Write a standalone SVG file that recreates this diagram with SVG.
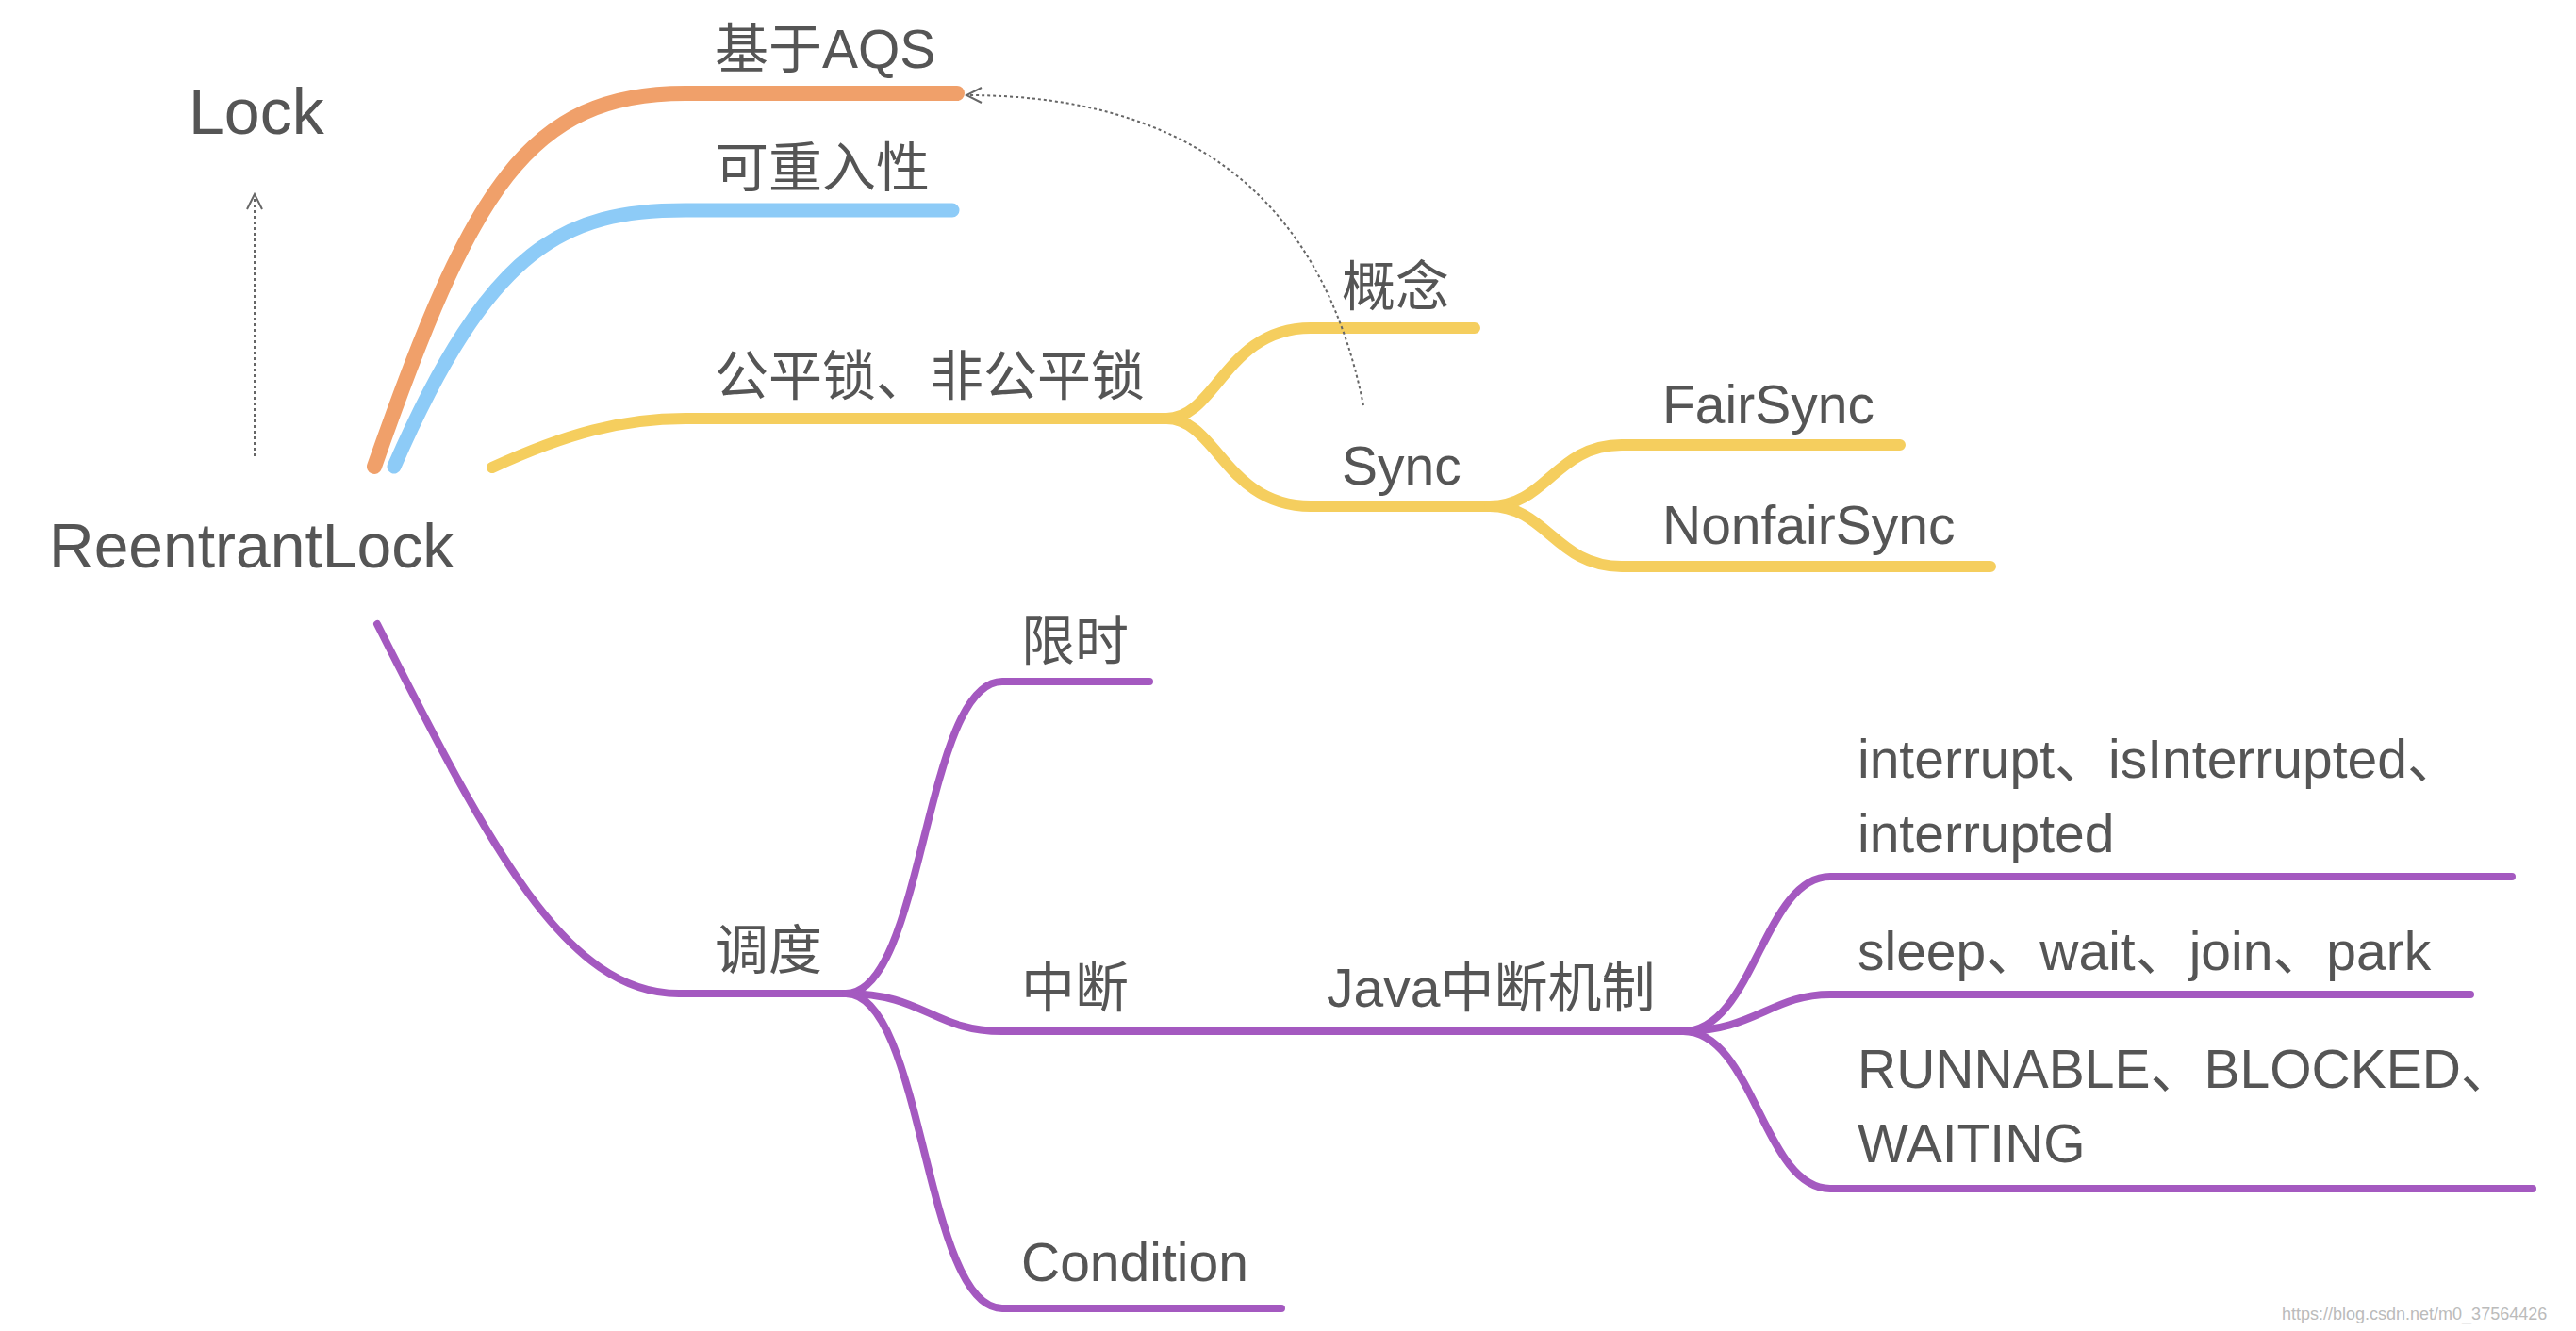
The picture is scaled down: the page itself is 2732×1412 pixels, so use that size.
<svg xmlns="http://www.w3.org/2000/svg" width="2732" height="1412" viewBox="0 0 2732 1412">
<style>
text{font-family:"Liberation Sans","Noto Sans CJK SC",sans-serif;fill:#555;font-size:57px}
.b{fill:none;stroke-linecap:round}
.o{stroke:#F0A06A;stroke-width:16}
.bl{stroke:#8DCBF7;stroke-width:15}
.y{stroke:#F5CE5E;stroke-width:12}
.p{stroke:#A459C0;stroke-width:8}
.d{fill:none;stroke:#666;stroke-width:2;stroke-dasharray:3 3}
</style>
<defs><marker id="ah" markerWidth="20" markerHeight="20" refX="18" refY="10" orient="auto" markerUnits="userSpaceOnUse"><path d="M2,2 L18,10 L2,18" fill="none" stroke="#666" stroke-width="2"/></marker>
<marker id="au" markerWidth="20" markerHeight="20" refX="10" refY="2" orient="0" markerUnits="userSpaceOnUse"><path d="M2,18 L10,2 L18,18" fill="none" stroke="#666" stroke-width="2"/></marker></defs>
<rect width="2732" height="1412" fill="#fff"/>
<g id="connectors">
<path class="b o" d="M397,495 C500,200 560,99 727,99 H1015"/>
<path class="b bl" d="M418,495 C520,260 600,223 727,223 H1010"/>
<path class="b y" d="M522,496 C600,460 660,444 727,444 H1237"/>
<path class="b y" d="M1237,444 C1290,444 1300,348 1390,348 H1564"/>
<path class="b y" d="M1237,444 C1290,444 1300,537 1390,537 H1580"/>
<path class="b y" d="M1580,537 C1640,537 1650,472 1720,472 H2015"/>
<path class="b y" d="M1580,537 C1640,537 1650,601 1720,601 H2111"/>
<path class="b p" d="M400,662 C520,900 600,1054 720,1054 H897"/>
<path class="b p" d="M897,1054 C980,1054 980,723 1063,723 H1219"/>
<path class="b p" d="M897,1054 C980,1054 990,1094 1063,1094 H1785"/>
<path class="b p" d="M897,1054 C980,1054 980,1388 1063,1388 H1359"/>
<path class="b p" d="M1785,1094 C1860,1094 1870,930 1941,930 H2664"/>
<path class="b p" d="M1785,1094 C1860,1094 1880,1055 1941,1055 H2620"/>
<path class="b p" d="M1785,1094 C1860,1094 1870,1261 1941,1261 H2686"/>
<path class="d" d="M270,484 V206" marker-end="url(#au)"/>
<path class="d" d="M1446,430 C1400,200 1250,101 1025,101" marker-end="url(#ah)"/>
</g>
<g id="root"><text x="52" y="602" style="font-size:66px">ReentrantLock</text></g>
<g id="lock"><text x="200" y="142" style="font-size:68px">Lock</text></g>
<g id="n1"><text x="758" y="72">基于AQS</text></g>
<g id="n2"><text x="758" y="198">可重入性</text></g>
<g id="n3"><text x="758" y="419">公平锁、非公平锁</text></g>
<g id="n4"><text x="1423" y="324">概念</text></g>
<g id="n5"><text x="1423" y="514">Sync</text></g>
<g id="n6"><text x="1763" y="449">FairSync</text></g>
<g id="n7"><text x="1763" y="577">NonfairSync</text></g>
<g id="n8"><text x="758" y="1028">调度</text></g>
<g id="n9"><text x="1083" y="700">限时</text></g>
<g id="n10"><text x="1083" y="1068">中断</text></g>
<g id="n11"><text x="1083" y="1359">Condition</text></g>
<g id="n12"><text x="1407" y="1068">Java中断机制</text></g>
<g id="n13"><text x="1970" y="825">interrupt、isInterrupted、</text><text x="1970" y="904">interrupted</text></g>
<g id="n14"><text x="1970" y="1029">sleep、wait、join、park</text></g>
<g id="n15"><text x="1970" y="1154">RUNNABLE、BLOCKED、</text><text x="1970" y="1233">WAITING</text></g>
<text x="2420" y="1400" style="font-size:18px;fill:#bbb">https://blog.csdn.net/m0_37564426</text>
</svg>
